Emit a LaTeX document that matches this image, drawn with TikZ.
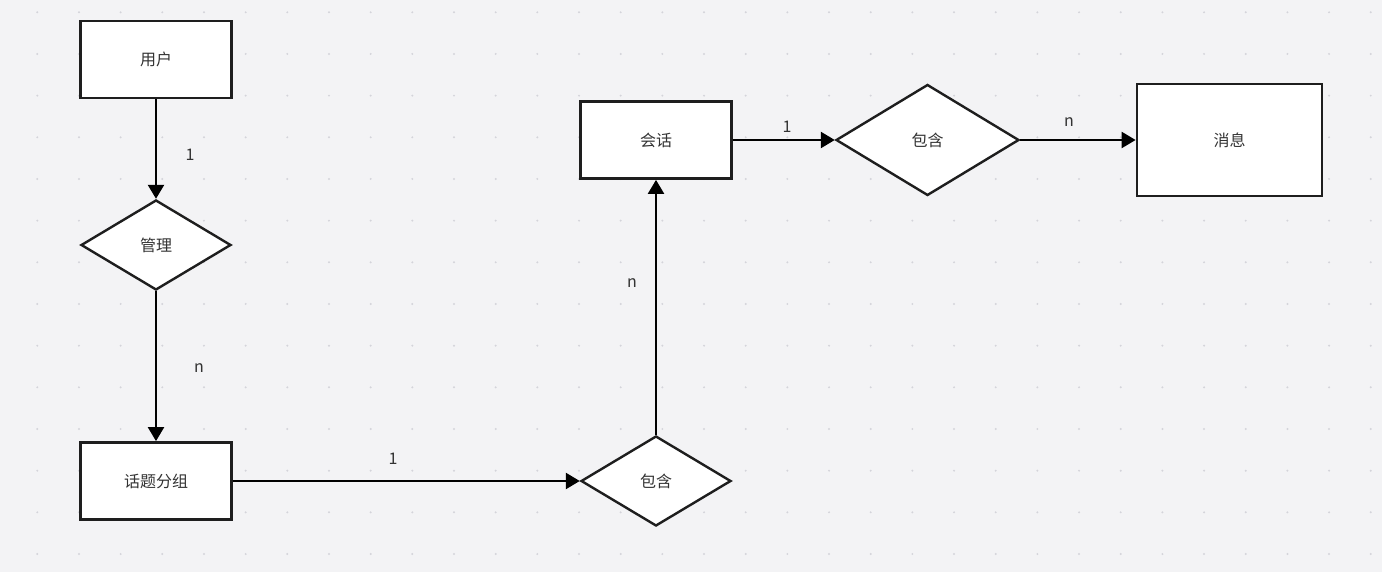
\documentclass[tikz,border=0pt]{standalone}
\usepackage{fontspec}
\setmainfont{Noto Sans CJK SC}
\usetikzlibrary{shapes.geometric,arrows.meta}
\definecolor{bgcol}{RGB}{243,243,245}
\definecolor{dotcol}{RGB}{212,212,218}
\definecolor{edgecol}{RGB}{30,30,30}
\definecolor{txtcol}{RGB}{51,51,51}
\begin{document}
\begin{tikzpicture}[x=1pt,y=-1pt,
  entity/.style={draw=edgecol,fill=white,line width=2.8pt,minimum width=151pt,minimum height=77pt,text=txtcol,font=\fontsize{16}{19}\selectfont},
  relation/.style={diamond,draw=edgecol,fill=white,line width=2.4pt,inner sep=0pt,minimum width=150pt,minimum height=90pt,text=txtcol,font=\fontsize{16}{19}\selectfont},
  card/.style={text=txtcol,font=\fontsize{16}{19}\selectfont,inner sep=0pt},
  link/.style={draw=black,line width=2.4pt,-{Triangle[length=14pt,width=16pt]}}]
\path[use as bounding box,fill=bgcol] (0,0) rectangle (1382,572);
% dot grid
\foreach \i in {0,...,32}
  \foreach \j in {0,...,13}
    \fill[dotcol] (37.3+41.67*\i,12.3+41.67*\j) circle (1.1pt);
% entities
\node[entity] (user) at (156,59.5) {用户};
\node[entity] (topic) at (156,481) {话题分组};
\node[entity] (session) at (656,140) {会话};
\node[entity,minimum width=185pt,minimum height=112pt] (message) at (1229.5,140) {消息};
% relations
\node[relation] (manage) at (156,245) {管理};
\node[relation] (contain1) at (656,481) {包含};
\node[relation,minimum width=183pt,minimum height=111pt] (contain2) at (927.5,140) {包含};
% connectors
\draw[link] (user) -- (manage);
\draw[link] (manage) -- (topic);
\draw[link] (topic) -- (contain1);
\draw[link] (contain1) -- (session);
\draw[link] (session) -- (contain2);
\draw[link] (contain2) -- (message);
% cardinalities
\node[card] (c1) at (190,155) {1};
\node[card] (c2) at (199,368) {n};
\node[card] (c3) at (393,459) {1};
\node[card] (c4) at (632,283) {n};
\node[card] (c5) at (787,127) {1};
\node[card] (c6) at (1069,122) {n};
\end{tikzpicture}
\end{document}
